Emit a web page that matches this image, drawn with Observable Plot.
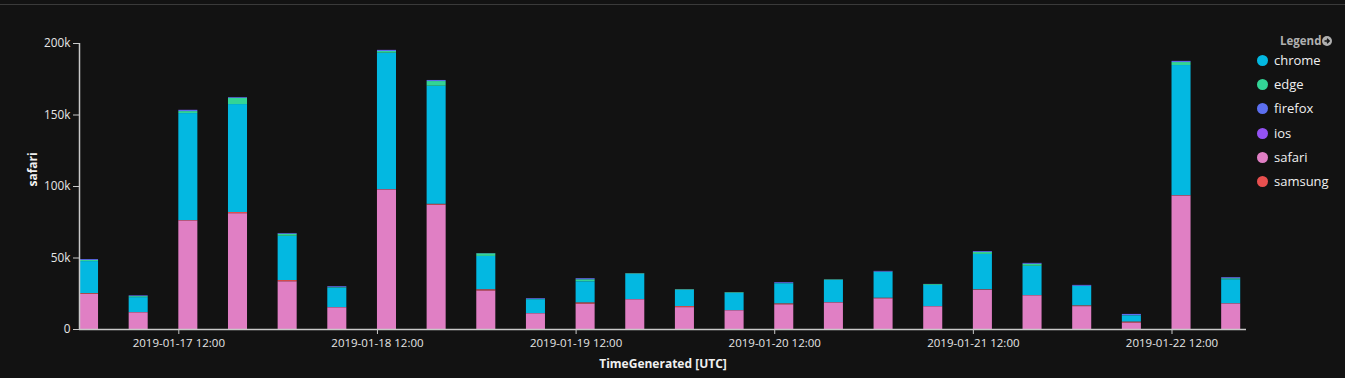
<!DOCTYPE html>
<html>
<head>
<meta charset="utf-8">
<script src="https://cdn.jsdelivr.net/npm/d3@7"></script>
<script src="https://cdn.jsdelivr.net/npm/@observablehq/plot@0.6"></script>
<style>
  html, body { margin: 0; padding: 0; background: #121212; }
  body { width: 1345px; height: 378px; overflow: hidden; position: relative; font-family: "Open Sans", "Noto Sans", sans-serif; }
  #topline { position: absolute; left: 0; top: 4px; width: 1345px; height: 1px; background: #3a3a3a; }
  #chart { position: absolute; left: 0; top: 0; }
  #legend { position: absolute; left: 1257px; top: 33px; color: #f0f0f0; font-size: 13px; }
  #legend .title { margin-left: 23px; font-weight: bold; color: #b0b0b0; font-size: 11.5px; height: 18px; line-height: 16px; white-space: nowrap; }
  #legend .title svg { vertical-align: -1px; margin-left: 1px; }
  #legend .item { height: 24.2px; line-height: 18px; white-space: nowrap; }
  #legend .dot { display: inline-block; width: 11px; height: 11px; border-radius: 50%; margin-right: 6px; vertical-align: -1px; }
</style>
</head>
<body>
<div id="topline"></div>
<div id="chart"></div>
<div id="legend"></div>
<script>
// ---- data (6-hour bins, UTC) ----
const times = [
  "2019-01-17T00:00Z","2019-01-17T06:00Z","2019-01-17T12:00Z","2019-01-17T18:00Z",
  "2019-01-18T00:00Z","2019-01-18T06:00Z","2019-01-18T12:00Z","2019-01-18T18:00Z",
  "2019-01-19T00:00Z","2019-01-19T06:00Z","2019-01-19T12:00Z","2019-01-19T18:00Z",
  "2019-01-20T00:00Z","2019-01-20T06:00Z","2019-01-20T12:00Z","2019-01-20T18:00Z",
  "2019-01-21T00:00Z","2019-01-21T06:00Z","2019-01-21T12:00Z","2019-01-21T18:00Z",
  "2019-01-22T00:00Z","2019-01-22T06:00Z","2019-01-22T12:00Z","2019-01-22T18:00Z"
];
const browsers = ["chrome", "edge", "firefox", "ios", "safari", "samsung"];
const stackOrder = ["safari", "samsung", "chrome", "edge", "firefox", "ios"];
const colors = ["#03b8e1", "#33d496", "#5c6ff0", "#9452f3", "#e07fc4", "#e8504f"];

const safari  = [24500, 11700, 76000, 81000, 33400, 15200, 97600, 87000, 27000, 11000, 17800, 20800,
                 15300, 13100, 17300, 18600, 21500, 15900, 27400, 23600, 16000, 4600, 93400, 17900];
const samsung = [500, 100, 200, 800, 800, 100, 200, 500, 700, 50, 700, 100,
                 700, 50, 500, 100, 300, 50, 300, 100, 400, 500, 200, 100];
const chrome  = [22500, 10500, 74800, 75500, 31000, 13700, 95400, 82600, 23400, 9800, 14900, 17600,
                 11300, 12100, 14200, 15600, 18100, 14900, 24800, 20500, 13700, 4500, 91000, 16800];
const edge    = [800, 700, 1400, 4400, 1400, 300, 1200, 3300, 1900, 200, 1400, 500,
                 500, 500, 100, 400, 200, 600, 1400, 1400, 100, 100, 2100, 700];
const firefox = [600, 500, 800, 500, 500, 600, 700, 700, 100, 500, 700, 100,
                 100, 50, 600, 50, 500, 50, 600, 600, 600, 800, 700, 700];
const ios     = [50, 50, 100, 50, 50, 50, 100, 50, 50, 50, 50, 50,
                 50, 50, 50, 50, 50, 50, 50, 50, 50, 50, 100, 50];

const yTicks = [0, 50000, 100000, 150000, 200000];
const xTicks = ["2019-01-17T12:00Z","2019-01-18T12:00Z","2019-01-19T12:00Z",
                "2019-01-20T12:00Z","2019-01-21T12:00Z","2019-01-22T12:00Z"];
const xDomain = ["2019-01-17T00:00Z", "2019-01-22T21:00Z"];
const barHours = 2.3;

// ---- build table ----
const series = {chrome, edge, firefox, ios, safari, samsung};
const rows = [];
times.forEach((t, i) => {
  for (const b of browsers) rows.push({t: new Date(t), browser: b, value: series[b][i]});
});
const fmtTick = d3.utcFormat("%Y-%m-%d %H:%M");
const axisColor = "#c8c8c8";
const textColor = "#e6e6e6";

const chart = Plot.plot({
  width: 1250,
  height: 378,
  marginLeft: 79,
  marginRight: 4,
  marginTop: 43,
  marginBottom: 49,
  style: {background: "transparent", color: textColor, fontFamily: "'Open Sans', 'Noto Sans', sans-serif", fontSize: "11.5px"},
  x: {type: "utc", domain: xDomain.map(s => new Date(s))},
  y: {domain: [0, 200000]},
  color: {domain: browsers, range: colors},
  marks: [
    Plot.rect(rows, Plot.stackY({
      x: "t",
      x1: "t",
      x2: d => new Date(+d.t + barHours * 3600e3),
      y: "value",
      fill: "browser",
      order: stackOrder
    })),
    Plot.ruleX([xDomain[0]].map(s => new Date(s)), {stroke: axisColor, strokeWidth: 1.5}),
    Plot.ruleY([0], {stroke: axisColor, strokeWidth: 1.5}),
    Plot.axisY({
      ticks: yTicks, tickSize: 6, tickPadding: 3, stroke: axisColor,
      tickFormat: d => d === 0 ? "0" : (d / 1000) + "k",
      fill: textColor, label: null, fontSize: 11.8
    }),
    Plot.axisX({
      ticks: xTicks.map(s => new Date(s)), tickSize: 5, tickPadding: 4, stroke: axisColor,
      tickFormat: fmtTick, fill: textColor, label: null, fontSize: 11.5
    }),
    Plot.text(["safari"], {
      frameAnchor: "left", dx: -46, rotate: -90, fill: "#f0f0f0",
      fontWeight: "bold", fontSize: 12, text: d => d
    }),
    Plot.text(["TimeGenerated [UTC]"], {
      frameAnchor: "bottom", dy: 38, fill: "#f0f0f0",
      fontWeight: "bold", fontSize: 12, text: d => d
    })
  ]
});
document.getElementById("chart").appendChild(chart);

// ---- legend ----
const lg = document.getElementById("legend");
const title = document.createElement("div");
title.className = "title";
title.innerHTML = 'Legend<svg width="10" height="10" viewBox="0 0 10 10"><circle cx="5" cy="5" r="5" fill="#b0b0b0"/><path d="M2.5 5H7M5 2.8L7.2 5L5 7.2" stroke="#121212" stroke-width="1.4" fill="none"/></svg>';
lg.appendChild(title);
browsers.forEach((b, i) => {
  const it = document.createElement("div");
  it.className = "item";
  it.innerHTML = `<span class="dot" style="background:${colors[i]}"></span>${b}`;
  lg.appendChild(it);
});
</script>
</body>
</html>
